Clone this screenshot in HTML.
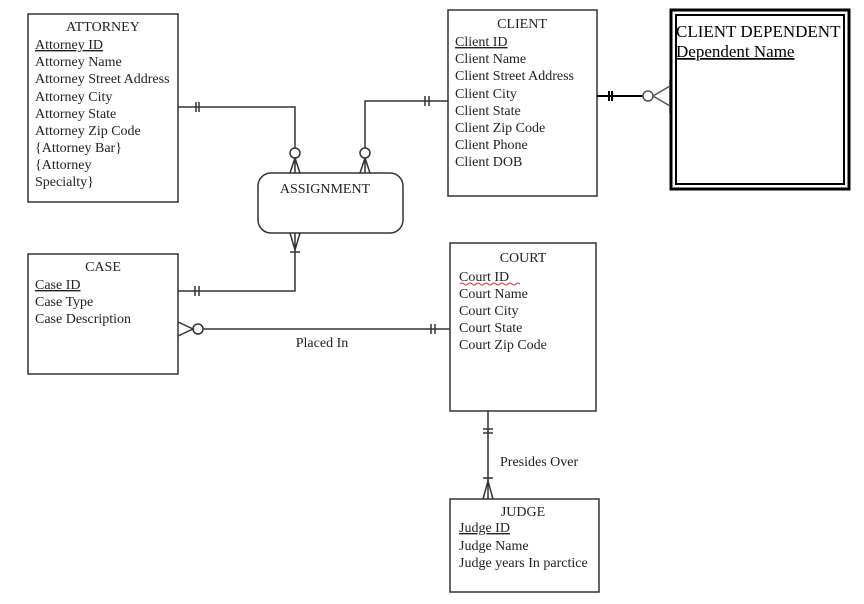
<!DOCTYPE html>
<html><head><meta charset="utf-8"><style>
html,body{margin:0;padding:0;background:#fff;}
svg{display:block}
text{font-family:"Liberation Serif",serif;font-size:14px;fill:#222;}
</style></head><body>
<svg width="864" height="604" viewBox="0 0 864 604" xmlns="http://www.w3.org/2000/svg">
<g fill="none" stroke="#333" stroke-width="1.5">
<rect x="28" y="14" width="150" height="188"/>
<rect x="448" y="10" width="149" height="186"/>
<rect x="258" y="173" width="145" height="60" rx="13"/>
<rect x="28" y="254" width="150" height="120"/>
<rect x="450" y="243" width="146" height="168"/>
<rect x="450" y="499" width="149" height="93"/>
<path d="M178 107H295V148"/><path d="M196 102v10M199 102v10"/>
<circle cx="295" cy="153" r="5"/>
<path d="M295 158L290 173M295 158L300 173M295 158V173"/>
<path d="M448 101H365V148"/><path d="M425 96v10M429 96v10"/>
<circle cx="365" cy="153" r="5"/>
<path d="M365 158L360 173M365 158L370 173M365 158V173"/>
<path d="M290 233L295 250L300 233M295 233V291H178"/>
<path d="M290 252h10"/><path d="M195 286v10M199 286v10"/>
<path d="M203 329H450"/><circle cx="198" cy="329" r="5"/>
<path d="M178 322L193 329L178 336"/>
<path d="M431 324v10M435 324v10"/>
<path d="M488 411V499"/><path d="M483 429h10M483 433h10M483 478h10"/>
<path d="M483 499L488 481L493 499"/>
</g>
<g fill="none" stroke="#000">
<path d="M597 96H643" stroke-width="2"/>
<path d="M609 91v10M612 91v10" stroke-width="2"/>
<circle cx="648" cy="96" r="5" stroke="#555" stroke-width="1.5"/>
<path d="M653 96L670 86M653 96L670 106" stroke="#555" stroke-width="1.5"/>
<path d="M670 80V113" stroke="#999" stroke-width="2"/>
<rect x="671" y="10" width="178" height="179" stroke-width="3"/>
<rect x="676" y="15" width="168" height="169" stroke-width="2"/>
</g>
<text x="103" y="31" text-anchor="middle">ATTORNEY</text>
<text x="35" y="49" text-decoration="underline">Attorney ID</text>
<text x="35" y="66">Attorney Name</text>
<text x="35" y="83">Attorney Street Address</text>
<text x="35" y="101">Attorney City</text>
<text x="35" y="118">Attorney State</text>
<text x="35" y="135">Attorney Zip Code</text>
<text x="35" y="152">{Attorney Bar}</text>
<text x="35" y="169">{Attorney</text>
<text x="35" y="186">Specialty}</text>
<text x="522" y="28" text-anchor="middle">CLIENT</text>
<text x="455" y="46" text-decoration="underline">Client ID</text>
<text x="455" y="63">Client Name</text>
<text x="455" y="80">Client Street Address</text>
<text x="455" y="98">Client City</text>
<text x="455" y="115">Client State</text>
<text x="455" y="132">Client Zip Code</text>
<text x="455" y="149">Client Phone</text>
<text x="455" y="166">Client DOB</text>
<text x="325" y="193" text-anchor="middle">ASSIGNMENT</text>
<text x="103" y="271" text-anchor="middle">CASE</text>
<text x="35" y="289" text-decoration="underline">Case ID</text>
<text x="35" y="306">Case Type</text>
<text x="35" y="323">Case Description</text>
<text x="322" y="347" text-anchor="middle">Placed In</text>
<text x="523" y="262" text-anchor="middle">COURT</text>
<text x="459" y="281">Court  ID</text>
<path d="M460 284q2 -2 4 0t4 0t4 0t4 0t4 0t4 0t4 0t4 0t4 0t4 0t4 0t4 0t4 0t4 0t4 0" fill="none" stroke="#d33" stroke-width="1"/>
<text x="459" y="298">Court Name</text>
<text x="459" y="315">Court City</text>
<text x="459" y="332">Court State</text>
<text x="459" y="349">Court Zip Code</text>
<text x="500" y="466">Presides Over</text>
<text x="523" y="516" text-anchor="middle">JUDGE</text>
<text x="459" y="532" text-decoration="underline">Judge ID</text>
<text x="459" y="550">Judge Name</text>
<text x="459" y="567">Judge years In parctice</text>
<text x="676" y="37" style="font-size:17px;fill:#000">CLIENT DEPENDENT</text>
<text x="676" y="57" style="font-size:17px;fill:#000" text-decoration="underline">Dependent Name</text>
</svg>
</body></html>
